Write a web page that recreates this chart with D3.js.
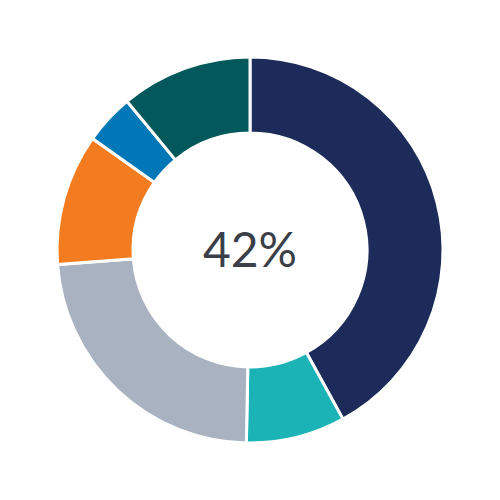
<!DOCTYPE html>
<html lang="en">
<head>
<meta charset="UTF-8">
<title></title>
<script src="https://d3js.org/d3.v7.min.js"></script>
<style>
  body { margin: 0; background: #fff; }
</style>
</head>
<body>
<script>
// slices clockwise from 12 o'clock
var categories = ["A", "B", "C", "D", "E", "F"];
var values = [42, 8.3, 23.5, 11, 4.2, 11];
var colors = ["#1c2b59", "#1bb3b6", "#a8b2c1", "#f37c20", "#0077b6", "#02585b"];
var centerLabel = "42%";

var width = 500, height = 500;
var outerR = 193, innerR = 117;

var svg = d3.select("body").append("svg")
  .attr("width", width)
  .attr("height", height);

var g = svg.append("g")
  .attr("transform", "translate(" + 250 + "," + 250 + ")");

var data = categories.map(function(c, i) { return { cat: c, value: values[i], color: colors[i] }; });

var pie = d3.pie().sort(null).value(function(d) { return d.value; });
var arc = d3.arc().innerRadius(innerR).outerRadius(outerR);

g.selectAll("path")
  .data(pie(data))
  .enter()
  .append("path")
  .attr("d", arc)
  .style("fill", function(d) { return d.data.color; })
  .style("stroke", "#fff")
  .style("stroke-width", 3);

g.append("text")
  .attr("text-anchor", "middle")
  .attr("dy", "0.36em")
  .style("font-family", "Lato, 'Open Sans', sans-serif")
  .style("font-size", "48px")
  .style("fill", "#3b4048")
  .text(centerLabel);
</script>
</body>
</html>
